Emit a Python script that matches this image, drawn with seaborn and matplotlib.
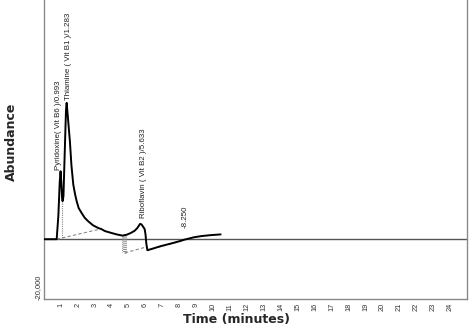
import numpy as np
import pandas as pd
import matplotlib
matplotlib.use("Agg")
import matplotlib.pyplot as plt
import seaborn as sns

# ---- data ----
time_min = [0.0, 0.5, 0.75, 0.85, 0.93, 0.98, 1.02, 1.07, 1.10, 1.15, 1.22, 1.30,
            1.34, 1.40, 1.47, 1.53, 1.62, 1.73, 1.83, 1.93, 2.05, 2.22, 2.40,
            2.61, 2.90, 3.20, 3.40, 3.60, 3.99, 4.30, 4.64, 4.90, 5.13, 5.35,
            5.52, 5.62, 5.68, 5.76, 5.85, 5.95, 6.00, 6.05, 6.11, 6.40, 6.90,
            7.40, 7.88, 8.30, 8.86, 9.30, 9.85, 10.44]
abundance = [0, 0, 0, 10000, 24000, 28400, 24000, 17000, 15900, 18000, 35000, 54000,
             57000, 52000, 46000, 41000, 31000, 22900, 19000, 15900, 13000, 11000, 9000,
             7500, 5800, 4700, 4200, 3400, 2600, 2000, 1500, 1900, 2600, 3500,
             4700, 5800, 6400, 6200, 5300, 4200, 2000, -2000, -4600, -4000, -2900,
             -2000, -1100, -200, 800, 1300, 1700, 2000]

peak_labels = ["Pyridoxine( Vit B6 )/0.993", "Thiamine ( Vit B1 )/1.283",
               "Riboflavin ( Vit B2 )/5.633", "-8.250"]
peak_label_t = [0.88, 1.42, 5.87, 8.32]
peak_label_y = [29000, 58000, 8900, 4600]

# integration baselines (gray dashed)
base1_t = [0.75, 3.30]
base1_y = [0, 4200]
base2_t = [4.78, 6.02]
base2_y = [-5700, -3300]
base3_t = [6.08, 8.30]
base3_y = [-4700, -400]
drop1_t = 1.08
drop1_y = [15900, 300]
hatch_t = [4.62, 4.67, 4.72, 4.77, 4.82]
hatch_top = [1500, 1550, 1600, 1650, 1700]
hatch_bot = [-5300, -5450, -5600, -5700, -5750]

x_ticks = list(range(1, 25))
y_ticks = [-20000]
y_tick_labels = ["-20,000"]

df = pd.DataFrame({"Time": time_min, "Abundance": abundance})

sns.set_theme(style="white")
plt.rcParams['font.family'] = ['Liberation Sans', 'DejaVu Sans']

fig = plt.figure(figsize=(4.74, 3.29), dpi=100)
ax = fig.add_axes([44 / 474, 1 - 299 / 329, 423 / 474, 299 / 329])

ax.axhline(0, color="#555555", lw=1.0, zorder=1)

gray = "#8a8a8a"
ax.plot(base1_t, base1_y, color=gray, lw=0.8, ls=(0, (3, 2)), zorder=2)
ax.plot(base2_t, base2_y, color=gray, lw=0.8, ls=(0, (3, 2)), zorder=2)
ax.plot(base3_t, base3_y, color=gray, lw=0.8, ls=(0, (3, 2)), zorder=2)
ax.plot([drop1_t, drop1_t], drop1_y, color=gray, lw=0.8, ls=(0, (1, 1)), zorder=2)
for t, a, b in zip(hatch_t, hatch_top, hatch_bot):
    ax.plot([t, t], [a, b], color=gray, lw=0.7, ls=(0, (1, 1)), zorder=2)

sns.lineplot(data=df, x="Time", y="Abundance", color="black", lw=1.4,
             estimator=None, sort=False, ax=ax, zorder=3)

for lab, t, y in zip(peak_labels, peak_label_t, peak_label_y):
    ax.text(t, y, lab, rotation=90, ha="center", va="bottom", fontsize=5.7,
            color="#222222")

ax.set_xlim(0, 25)
ax.set_ylim(-25000, 100000)
ax.set_xticks(x_ticks)
ax.set_xticklabels([str(v) for v in x_ticks], rotation=90, fontsize=5.3, color="#333333")
ax.set_yticks(y_ticks)
ax.set_yticklabels(y_tick_labels, rotation=90, va="center", fontsize=5.5, color="#333333")
ax.tick_params(axis="x", length=3, width=0.7, color=gray, pad=1.5, direction="inout")
ax.tick_params(axis="y", length=0, pad=2)

for s in ["left", "right", "bottom"]:
    ax.spines[s].set_color(gray)
    ax.spines[s].set_linewidth(1.0)
ax.spines["top"].set_visible(False)

ax.set_xlabel("Time (minutes)", fontsize=9, fontweight="bold", family="DejaVu Sans")
ax.set_ylabel("Abundance", fontsize=9, fontweight="bold", family="DejaVu Sans")
ax.xaxis.set_label_coords(0.455, -0.046)
ax.yaxis.set_label_coords(-0.062, 0.525)

fig.savefig("out.png", dpi=100)
